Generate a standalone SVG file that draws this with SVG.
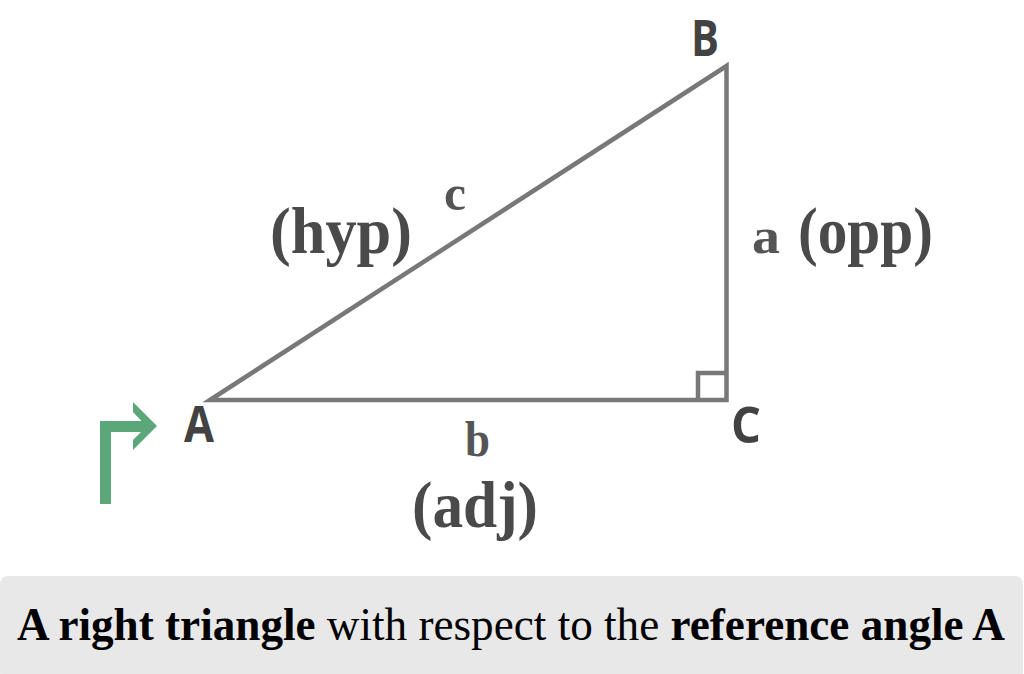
<svg xmlns="http://www.w3.org/2000/svg" width="1024" height="674" viewBox="0 0 1024 674">
<style>
.vtx{font-family:"Open Sans","Liberation Sans",sans-serif;font-weight:bold;font-size:50px;fill:#424242}
.lbl{font-family:"Liberation Serif","Times New Roman",serif;font-weight:bold;fill:#4a4a4a}
.big{font-size:66px}
.sm{font-size:51px;fill:#555}
.cap{font-family:"Liberation Serif","Times New Roman",serif;font-size:47px;fill:#000}
.edge{fill:none;stroke:#787878;stroke-width:4.5;stroke-linejoin:miter}
</style>
<rect x="0" y="0" width="1024" height="674" fill="#fff"/>
<g id="connectors">
<polygon id="triangle" class="edge" points="210,400 726.5,66 726.5,400"/>
<polyline id="right-angle" class="edge" points="698,400 698,373 726.5,373"/>
</g>
<g id="arrow">
<polygon fill="#5ba77a" points="100,504 100,421 141.5,421 133,412 133,402 157,426 133,450 133,440 141,432 111,432 111,504"/>
</g>
<g id="node-A"><text class="vtx" x="184" y="442" textLength="30" lengthAdjust="spacingAndGlyphs">A</text></g>
<g id="node-B"><text class="vtx" x="691" y="56" textLength="28" lengthAdjust="spacingAndGlyphs">B</text></g>
<g id="node-C"><text class="vtx" x="731" y="443" textLength="30" lengthAdjust="spacingAndGlyphs">C</text></g>
<g id="label-c"><text class="lbl sm" x="444" y="210" textLength="22" lengthAdjust="spacingAndGlyphs">c</text></g>
<g id="label-hyp"><text class="lbl big" x="270" y="253" textLength="142" lengthAdjust="spacingAndGlyphs">(hyp)</text></g>
<g id="label-a"><text class="lbl sm" x="752" y="253" textLength="28" lengthAdjust="spacingAndGlyphs">a</text></g>
<g id="label-opp"><text class="lbl big" x="798" y="253" textLength="135" lengthAdjust="spacingAndGlyphs">(opp)</text></g>
<g id="label-b"><text class="lbl sm" x="465" y="456" textLength="25" lengthAdjust="spacingAndGlyphs">b</text></g>
<g id="label-adj"><text class="lbl big" x="412" y="527" font-size="63" textLength="126" lengthAdjust="spacingAndGlyphs">(adj)</text></g>
<g id="caption">
<rect x="0" y="576" width="1023" height="104" rx="8" fill="#e8e8e8"/>
<text class="cap" x="17" y="640" textLength="988" lengthAdjust="spacingAndGlyphs"><tspan font-weight="bold">A right triangle</tspan> with respect to the <tspan font-weight="bold">reference angle A</tspan></text>
</g>
</svg>
